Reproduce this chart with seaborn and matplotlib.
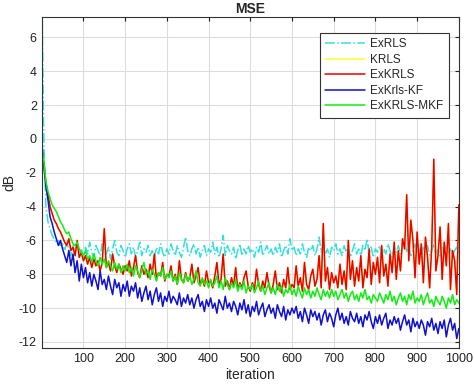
import matplotlib
matplotlib.use('Agg')
import matplotlib.pyplot as plt
import seaborn as sns

iters = [1, 3] + list(range(5, 1001, 5))

exrls = [8.0, 3.5,
         0.0, -4.0, -4.9, -5.3, -5.7, -5.9, -6.1, -6.0, -6.3, -6.2,
         -6.6, -6.1, -6.5, -6.9, -6.3, -6.7, -6.2, -6.8, -6.5, -7.0,
         -6.4, -6.8, -6.1, -6.7, -7.0, -6.3, -6.6, -6.9, -6.2, -6.5,
         -6.8, -6.4, -7.1, -6.5, -6.0, -6.7, -6.9, -6.3, -6.6, -7.0,
         -6.5, -6.2, -6.8, -6.4, -7.0, -6.6, -6.1, -6.9, -6.5, -6.7,
         -6.3, -6.9, -6.6, -7.1, -6.4, -6.8, -6.2, -6.7, -7.0, -6.5,
         -6.8, -6.2, -6.6, -6.9, -6.3, -6.7, -7.0, -6.4, -5.8, -6.6,
         -6.9, -6.5, -6.2, -6.8, -6.4, -7.0, -6.6, -6.3, -6.9, -6.5,
         -6.7, -6.1, -6.8, -6.4, -7.0, -6.5, -5.7, -6.9, -6.3, -6.6,
         -6.8, -6.4, -7.1, -6.6, -6.2, -6.9, -6.5, -6.8, -6.3, -6.7,
         -6.5, -7.0, -6.4, -6.7, -6.1, -6.9, -6.6, -6.3, -6.8, -6.5,
         -6.9, -6.4, -6.7, -6.2, -7.0, -6.6, -6.3, -6.8, -5.9, -6.6,
         -6.4, -6.9, -6.5, -6.8, -6.2, -6.7, -7.0, -6.4, -6.6, -6.3,
         -6.9, -6.5, -5.8, -6.7, -6.3, -6.8, -6.5, -7.0, -6.4, -6.6,
         -6.2, -6.8, -6.5, -6.9, -6.3, -6.7, -6.4, -7.0, -6.6, -6.2,
         -6.8, -6.5, -6.9, -6.3, -6.6, -5.9, -6.8, -6.4, -7.0, -6.5,
         -6.7, -6.3, -6.9, -6.5, -6.8, -6.2, -6.6, -7.0, -6.4, -6.7,
         -6.3, -6.8, -6.5, -5.9, -6.7, -6.4, -6.9, -6.6, -6.2, -6.8,
         -6.5, -7.0, -6.4, -6.7, -6.3, -6.9, -6.6, -6.2, -6.8, -6.5,
         -6.9, -6.4, -6.7, -6.3, -6.8, -6.5, -7.0, -6.6, -6.4, -6.8]

exkrls = [-0.9, -1.1,
          -1.4, -2.6, -3.3, -4.0, -4.4, -4.8, -5.0, -5.3, -5.5, -5.8,
          -6.1, -6.3, -5.9, -6.6, -6.4, -6.9, -6.0, -7.0, -6.7, -7.2,
          -6.9, -7.4, -7.0, -7.6, -7.1, -7.5, -7.2, -7.8, -7.3, -5.3,
          -7.6, -7.3, -7.8, -6.8, -7.5, -7.9, -7.4, -7.7, -8.0, -7.5,
          -7.8, -7.2, -8.1, -7.6, -6.9, -7.9, -8.2, -7.5, -8.0, -7.7,
          -8.2, -7.4, -8.0, -6.8, -8.3, -7.9, -8.1, -7.3, -8.4, -8.0,
          -8.1, -7.5, -8.4, -8.0, -8.6, -7.2, -8.3, -8.5, -7.9, -8.4,
          -8.2, -7.4, -8.5, -8.1, -7.6, -8.6, -8.3, -8.7, -7.8, -8.5,
          -8.4, -8.8, -8.1, -7.3, -8.6, -8.3, -6.8, -8.7, -8.4, -8.9,
          -8.2, -8.7, -7.6, -8.9, -8.5, -8.8, -8.2, -7.8, -8.7, -9.0,
          -8.5, -8.9, -7.7, -8.6, -9.0, -8.4, -8.8, -7.9, -8.7, -9.1,
          -8.6, -7.8, -8.9, -8.5, -9.1, -8.3, -8.8, -7.6, -8.9, -8.6,
          -8.8, -7.5, -8.7, -8.2, -9.0, -7.3, -8.6, -8.9, -8.1, -7.7,
          -8.7, -8.3, -6.9, -8.8, -5.0, -8.4, -7.6, -8.9, -7.9, -8.5,
          -8.1, -8.8, -7.4, -8.6, -7.8, -8.9, -6.0, -8.3, -7.2, -8.7,
          -7.6, -8.4, -6.9, -8.8, -7.7, -8.2, -6.5, -8.6, -7.3, -8.0,
          -7.0, -8.5, -6.3, -8.1, -7.4, -8.7, -6.8, -7.9, -6.1, -8.3,
          -6.6, -7.8, -5.9, -6.5, -3.3, -7.2, -4.8, -6.0, -8.2, -5.5,
          -7.4, -6.2, -8.5, -5.8, -7.0, -8.8, -6.4, -1.2, -7.8, -6.9,
          -5.2, -8.3, -6.1, -7.5, -5.0, -8.9, -6.6, -7.2, -9.2, -3.9]

# KRLS is fully hidden under ExKRLS in the picture
krls = list(exkrls)

exkrls_kf = [-0.4, -1.0,
             -1.6, -2.8, -3.6, -4.6, -5.0, -5.5, -5.9, -6.3, -6.0, -6.5,
             -6.9, -7.3, -6.6, -7.5, -6.8, -7.9, -7.2, -8.4, -7.4, -8.2,
             -7.6, -8.5, -7.9, -8.7, -8.0, -8.4, -8.9, -7.8, -8.6, -8.3,
             -8.9, -8.1, -8.7, -9.2, -8.3, -8.8, -8.5, -9.3, -8.6, -9.0,
             -8.4, -9.3, -8.7, -9.0, -8.5, -9.4, -8.8, -9.6, -9.1, -8.7,
             -9.5, -9.0, -9.8, -9.2, -8.8, -9.6, -9.1, -9.9, -9.3, -9.6,
             -9.0, -9.7, -9.3, -9.5, -9.8, -9.1, -9.9, -9.4, -9.7, -9.2,
             -9.8, -9.4, -10.0, -9.5, -9.2, -9.9, -9.6, -10.2, -9.5, -9.9,
             -9.4, -10.0, -9.7, -10.3, -9.5, -9.8, -10.1, -9.3, -10.0, -9.7,
             -10.2, -9.6, -9.9, -10.4, -9.7, -10.1, -9.5, -10.3, -9.8, -10.5,
             -9.9, -10.2, -9.6, -10.4, -10.0, -9.7, -10.5, -10.1, -9.8, -10.3,
             -10.0, -10.6, -9.8, -10.2, -10.5, -9.9, -10.7, -10.1, -10.4, -10.0,
             -10.3, -9.9, -10.6, -10.2, -10.8, -10.0, -10.4, -10.9, -10.1, -10.5,
             -10.2, -10.7, -10.3, -11.0, -10.4, -10.1, -10.8, -10.3, -10.6, -11.1,
             -10.4, -10.0, -10.7, -10.3, -10.9, -10.5, -11.0, -10.2, -10.6, -10.8,
             -10.3, -10.9, -10.5, -11.1, -10.4, -10.7, -10.2, -10.8, -11.2, -10.5,
             -10.9, -10.4, -11.0, -10.6, -10.3, -11.2, -10.7, -11.0, -10.5, -10.9,
             -10.6, -11.3, -10.8, -10.4, -11.0, -10.7, -11.4, -10.6, -11.1, -10.8,
             -11.2, -10.7, -11.0, -11.6, -10.8, -11.1, -10.6, -11.3, -10.9, -11.5,
             -10.8, -11.2, -10.7, -11.7, -11.0, -10.6, -11.3, -10.9, -11.8, -11.2]

exkrls_mkf = [-0.8, -1.0,
              -1.3, -2.5, -3.1, -3.5, -3.9, -4.1, -4.3, -4.6, -4.9, -5.1,
              -5.4, -5.6, -5.5, -5.9, -6.2, -6.3, -6.1, -6.5, -6.7, -6.9,
              -6.6, -7.1, -6.9, -7.3, -6.8, -7.2, -7.5, -7.0, -7.4, -7.1,
              -7.6, -7.2, -7.5, -7.8, -7.3, -7.7, -7.4, -7.9, -7.5, -7.8,
              -7.4, -7.9, -7.6, -8.1, -7.5, -7.8, -8.2, -7.7, -7.3, -8.0,
              -7.8, -8.3, -7.7, -8.0, -8.4, -7.9, -8.1, -7.6, -8.3, -8.0,
              -8.2, -7.8, -8.4, -8.1, -8.6, -7.9, -8.3, -8.5, -8.0, -8.4,
              -8.1, -8.6, -8.3, -7.8, -8.5, -8.7, -8.2, -8.6, -8.4, -8.8,
              -8.3, -8.7, -8.5, -8.1, -8.8, -8.4, -8.9, -8.2, -8.6, -8.9,
              -8.5, -8.8, -8.3, -9.0, -8.6, -8.9, -8.4, -9.1, -8.7, -8.9,
              -8.6, -9.1, -8.8, -8.4, -9.0, -8.7, -9.2, -8.8, -8.5, -9.1,
              -8.8, -9.2, -8.6, -9.0, -8.7, -9.3, -8.9, -9.1, -8.6, -9.2,
              -8.9, -9.3, -8.7, -9.1, -9.4, -8.8, -9.2, -8.9, -9.4, -9.0,
              -9.3, -8.8, -9.2, -9.5, -8.9, -9.3, -9.0, -9.4, -8.9, -9.3,
              -9.0, -9.5, -9.2, -8.9, -9.4, -9.1, -9.6, -9.2, -9.0, -9.5,
              -9.2, -9.6, -9.1, -9.4, -8.9, -9.5, -9.3, -9.7, -9.2, -9.4,
              -9.6, -9.1, -9.4, -9.7, -9.2, -9.5, -9.0, -9.6, -9.3, -9.8,
              -9.4, -9.1, -9.6, -9.3, -9.8, -9.2, -9.5, -9.0, -9.7, -9.4,
              -9.6, -9.2, -9.8, -9.4, -9.1, -9.7, -9.5, -9.9, -9.3, -9.6,
              -9.8, -9.3, -9.6, -10.0, -9.4, -9.7, -9.2, -9.8, -9.5, -9.7]

sns.set_style('whitegrid')
plt.rcParams['font.family'] = ['Liberation Sans', 'DejaVu Sans']
plt.rcParams['axes.unicode_minus'] = False

fig = plt.figure(figsize=(4.74, 3.87), dpi=100)
ax = fig.add_axes([0.088, 0.101, 0.88, 0.855])

sns.lineplot(x=iters, y=exrls, color='#33e0e0', linestyle='-.', lw=1.1, label='ExRLS', ax=ax)
sns.lineplot(x=iters, y=krls, color='#ffff33', lw=1.1, label='KRLS', ax=ax)
sns.lineplot(x=iters, y=exkrls, color='#ee0000', lw=1.1, label='ExKRLS', ax=ax)
sns.lineplot(x=iters, y=exkrls_kf, color='#1010d0', lw=1.1, label='ExKrls-KF', ax=ax)
sns.lineplot(x=iters, y=exkrls_mkf, color='#11ee11', lw=1.1, label='ExKRLS-MKF', ax=ax)

ax.set_xlim(0, 1000)
ax.set_ylim(-12.35, 7.2)
ax.set_xticks(range(100, 1001, 100))
ax.set_yticks(range(-12, 7, 2))
ax.grid(True, color='#dddddd', lw=0.8)
for s in ax.spines.values():
    s.set_color('#333333')
    s.set_linewidth(0.8)
ax.tick_params(direction='in', top=True, right=True, length=3, labelsize=9, colors='#222222')

ax.set_title('MSE', fontsize=10, fontweight='bold', pad=3)
ax.set_xlabel('iteration', fontsize=10, labelpad=2)
ax.set_ylabel('dB', fontsize=10, labelpad=2)

leg = ax.legend(loc='upper right', fontsize=8.5, frameon=True, fancybox=False,
                framealpha=1, edgecolor='#333333', borderpad=0.45, labelspacing=0.3,
                handlelength=3.4, handletextpad=0.4, bbox_to_anchor=(0.99, 0.97))
leg.get_frame().set_linewidth(0.8)

plt.savefig('out.png', dpi=100)
